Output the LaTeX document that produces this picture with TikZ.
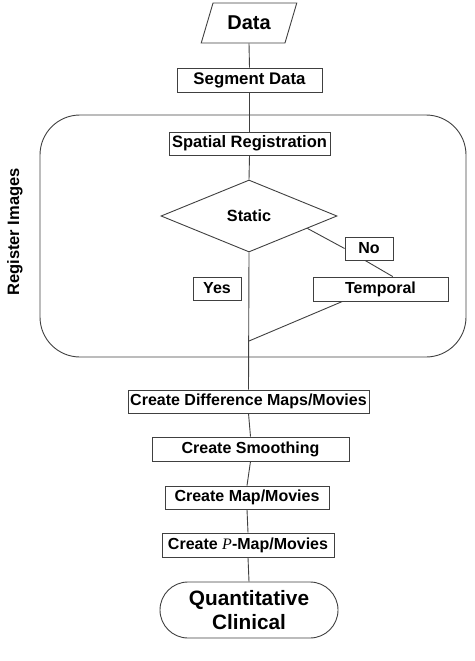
\documentclass[tikz,border=0pt]{standalone}
\usepackage{fontspec}
\setmainfont{Liberation Sans}
\newfontfamily\pserif{Liberation Serif}
\usetikzlibrary{shapes.geometric,calc}
\begin{document}
\begin{tikzpicture}[x=1pt,y=-1pt,
  line/.style={draw=black!75,line width=0.9pt},
  boxnode/.style={draw=black!75,line width=0.9pt,fill=white,inner sep=0pt,font=\fontsize{16}{18}\selectfont\bfseries},
]
\useasboundingbox (0,0) rectangle (474,661);
% container
\node[draw=black!75,line width=0.9pt,rounded corners=40pt,minimum width=426pt,minimum height=242pt,inner sep=0pt] (reg) at (253,236) {};
\node[rotate=90,font=\fontsize{16.5}{18}\selectfont\bfseries] (regl) at (15,232) {Register Images};
% nodes
\node[trapezium,trapezium left angle=63,trapezium right angle=117,draw=black!75,line width=0.9pt,fill=white,minimum width=96pt,minimum height=40pt,inner sep=0pt,trapezium stretches=true,font=\fontsize{20}{22}\selectfont\bfseries] (data) at (249,23) {Data};
\node[boxnode,minimum width=145pt,minimum height=24pt,font=\fontsize{16.8}{18}\selectfont\bfseries] (seg) at (249.5,80) {Segment Data};
\node[boxnode,minimum width=161pt,minimum height=23pt,font=\fontsize{16.5}{18}\selectfont\bfseries] (spa) at (249.5,143.5) {Spatial Registration};
\node[diamond,draw=black!75,line width=0.9pt,fill=white,minimum width=176pt,minimum height=72pt,inner sep=0pt,font=\fontsize{16.2}{18}\selectfont\bfseries] (st) at (249,216) {Static};
\node[boxnode,minimum width=48pt,minimum height=23pt] (no) at (369,248.5) {No};
\node[boxnode,minimum width=135pt,minimum height=24pt] (tem) at (380.5,289) {Temporal};
\node[boxnode,minimum width=48pt,minimum height=23pt] (yes) at (217,288.5) {Yes};
\node[boxnode,minimum width=241pt,minimum height=23pt] (dif) at (248.5,401.5) {Create Difference Maps/Movies};
\node[boxnode,minimum width=197pt,minimum height=24pt] (smo) at (250.5,449) {Create Smoothing};
\node[boxnode,minimum width=164pt,minimum height=23pt] (map) at (247,497.5) {Create Map/Movies};
\node[boxnode,minimum width=172pt,minimum height=24pt] (pmap) at (248,545) {Create {\pserif\mdseries\itshape P}-Map/Movies};
\node[draw=black!75,line width=0.9pt,fill=white,rounded corners=28pt,minimum width=178pt,minimum height=56pt,inner sep=0pt,align=center,font=\fontsize{20.8}{23.5}\selectfont\bfseries] (qc) at (249,610) {Quantitative\\Clinical};
\coordinate (join) at (249,341);
% connectors
\draw[line] (data.south) -- (seg.north);
\draw[line] (seg.south) -- (spa.north);
\draw[line] (spa.south) -- (st.north);
\draw[line] (st.south) -- (dif.north);
\draw[line] (dif.south) -- (smo.north);
\draw[line] (smo.south) -- (map.north);
\draw[line] (map.south) -- (pmap.north);
\draw[line] (pmap.south) -- (qc.north);
\draw[line] ($(st.east)!0.34!(st.south)$) -- (no.west);
\draw[line] ($(no.south west)!0.42!(no.south east)$) -- ($(tem.north west)!0.59!(tem.north east)$);
\draw[line] ($(tem.south west)!0.22!(tem.south east)$) -- (join);
\end{tikzpicture}
\end{document}
